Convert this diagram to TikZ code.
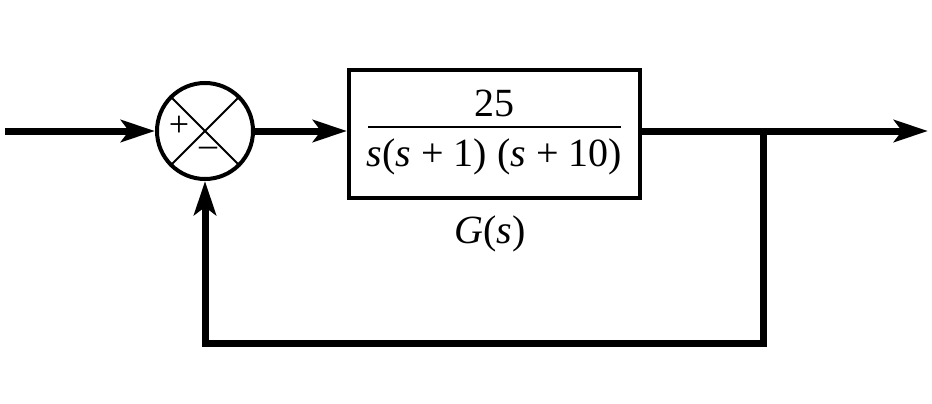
\documentclass[tikz,border=0pt]{standalone}
\usepackage{fontspec}
\setmainfont{Liberation Serif}
\usetikzlibrary{arrows.meta}
\begin{document}
\begin{tikzpicture}[x=1pt,y=-1pt,
  sig/.style={line width=7pt,-{Stealth[length=34pt,width=22pt,inset=8pt]}},
  wire/.style={line width=7pt,line join=miter},
  txt/.style={font=\fontsize{40}{44}\selectfont}]
\useasboundingbox (0,0) rectangle (932,404);
\node[draw,circle,line width=4pt,minimum size=96pt,inner sep=0] (sum) at (205,131) {};
\draw[line width=2pt] (sum.north west) -- (sum.south east) (sum.north east) -- (sum.south west);
\node[font=\fontsize{36}{40}\selectfont,inner sep=0] (plus) at (179,126) {+};
\node[font=\fontsize{36}{40}\selectfont,inner sep=0] (minus) at (208,152) {--};
\node[draw,line width=4pt,minimum width=291pt,minimum height=128pt,inner sep=0] (G) at (494.5,134) {};
\node[txt,inner sep=0] (num) at (494.5,103) {25};
\draw[line width=1.5pt] (368,127) -- (621,127);
\node[txt,inner sep=0] (den) at (494.5,157) {\textit{s}(\textit{s} + 1) (\textit{s} + 10)};
\node[txt] (gl) at (490,234) {\textit{G}(\textit{s})};
\coordinate (in) at (5,131);
\coordinate (out) at (928,131);
\coordinate (tap) at (763,131);
\coordinate (c1) at (763,343);
\coordinate (c2) at (205,343);
\draw[sig] (in) -- (sum.west);
\draw[sig] (sum.east) -- (G.west |- sum.east);
\draw[sig] (G.east |- sum.east) -- (out);
\draw[wire] (tap) -- (c1) -- (c2) -- ([yshift=-3.5pt]c2);
\draw[sig] (c2) -- (sum.south);
\end{tikzpicture}
\end{document}
